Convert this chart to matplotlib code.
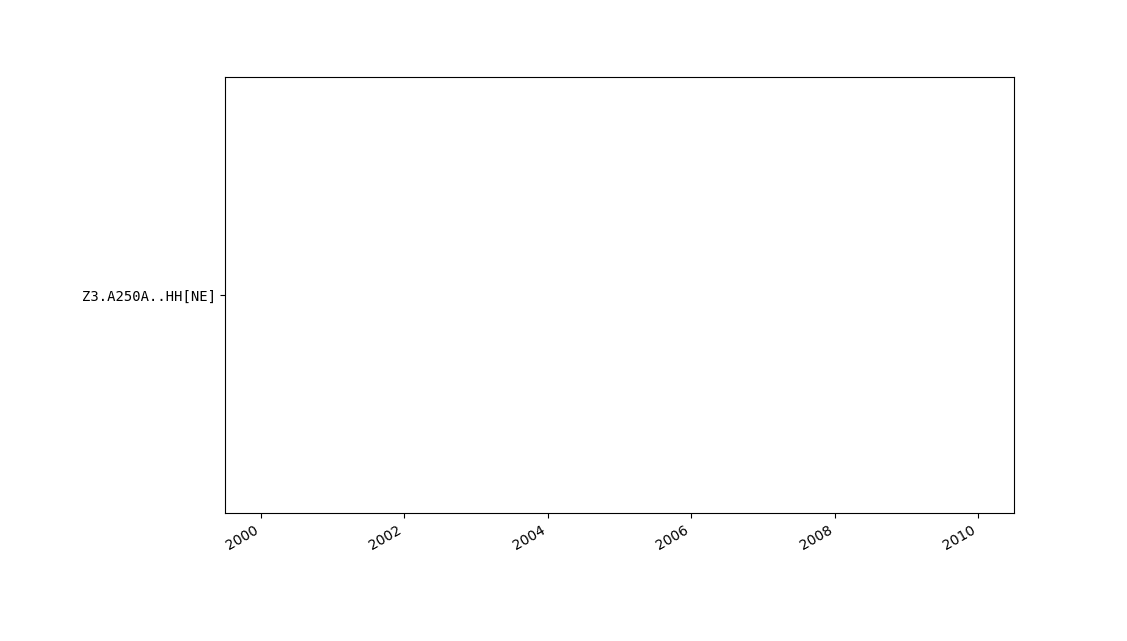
import datetime
import matplotlib
matplotlib.use("Agg")
import matplotlib.pyplot as plt
import matplotlib.dates as mdates

# one channel, no data segments found
labels = ["Z3.A250A..HH[NE]"]
t_start = datetime.datetime(1999, 7, 6)
t_end = datetime.datetime(2010, 7, 3)

fig = plt.figure(figsize=(11.27, 6.41), dpi=100, facecolor="white")
ax = fig.add_subplot(111)
fig.subplots_adjust(left=0.2, right=0.9, top=0.88, bottom=0.2)

ax.set_yticks(range(len(labels)))
ax.set_yticklabels(labels, family="monospace")
ax.set_ylim(-0.5, len(labels) - 0.5)

ax.xaxis_date()
ax.set_xlim(mdates.date2num(t_start), mdates.date2num(t_end))
ax.xaxis.set_major_locator(mdates.YearLocator(2))
ax.xaxis.set_major_formatter(mdates.DateFormatter("%Y"))
fig.autofmt_xdate()
fig.subplots_adjust(left=0.2, right=0.9, top=0.88, bottom=0.2)

fig.savefig("out.png", dpi=100)
